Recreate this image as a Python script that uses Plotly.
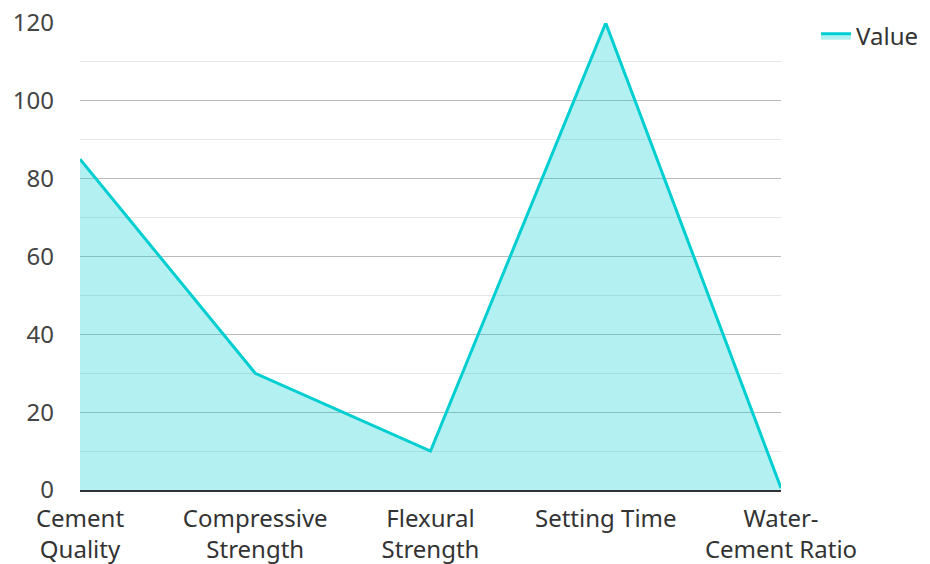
import plotly.graph_objects as go

categories = ["Cement<br>Quality", "Compressive<br>Strength", "Flexural<br>Strength", "Setting Time", "Water-<br>Cement Ratio"]
values = [85, 30, 10, 120, 0.5]
series_name = "Value"

fig = go.Figure()
fig.add_trace(go.Scatter(
    x=categories, y=values, name=series_name, mode="lines",
    line=dict(color="#00CED1", width=3),
    fill="tozeroy", fillcolor="rgba(0,206,209,0.3)",
))

fig.update_layout(
    width=930, height=564,
    margin=dict(l=72, r=157, t=15, b=82, autoexpand=False),
    paper_bgcolor="white", plot_bgcolor="white",
    font=dict(family="Noto Sans", size=24, color="#333"),
    showlegend=True,
    legend=dict(x=1.05, y=1.02, xanchor="left", yanchor="top", xref="paper",
                font=dict(size=24, color="#333"), bgcolor="rgba(0,0,0,0)"),
    xaxis=dict(range=[0, 4], showgrid=False, showline=True, linecolor="#333",
               linewidth=2, ticks="", tickfont=dict(size=24, color="#333"),
               zeroline=False, automargin=False, ticklabelstandoff=6,
               ticklabeloverflow="allow"),
    yaxis=dict(range=[0, 120], dtick=20, showgrid=True, gridcolor="#bbbbbb",
               gridwidth=1, zeroline=False, showline=False, ticks="",
               tickfont=dict(size=24, color="#444"), ticklabelstandoff=25,
               automargin=False, ticklabeloverflow="allow",
               minor=dict(dtick=10, showgrid=True, gridcolor="#e6e6e6", gridwidth=1)),
)

fig.write_html("out.html")
